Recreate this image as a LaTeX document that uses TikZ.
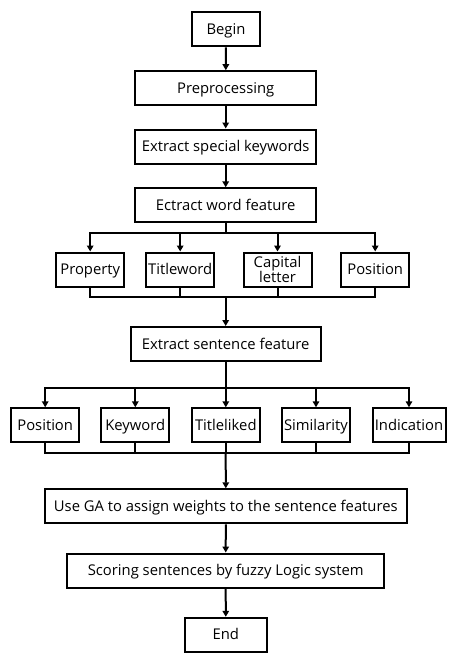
\documentclass[tikz,border=0pt]{standalone}
\usepackage{fontspec}
\setmainfont{Open Sans}
\usetikzlibrary{arrows.meta}
\begin{document}
\begin{tikzpicture}[x=1pt,y=-1pt,
  box/.style={draw,line width=2pt,minimum height=34pt,inner sep=0pt,align=center,
    text height=11pt,text depth=1pt,font=\fontsize{14.8}{14}\selectfont},
  ln/.style={line width=2pt},
  arr/.style={ln,-{Triangle[length=6pt,width=6.5pt]}}]
\useasboundingbox (0,0) rectangle (474,670);
\node[box,minimum width=68pt]  (begin) at (226,29.3) {Begin};
\node[box,minimum width=181pt] (pre) at (225.7,88.2) {Preprocessing};
\node[box,minimum width=181pt] (esk) at (225.7,146.5) {Extract special keywords};
\node[box,minimum width=181pt] (ewf) at (225.7,205.3) {Ectract word feature};
\node[box,minimum width=68pt] (p1) at (90.2,269.5) {Property};
\node[box,minimum width=68pt] (p2) at (180.2,269.5) {Titleword};
\node[box,minimum width=68pt,text height=,text depth=,font=\fontsize{14.8}{14.5}\selectfont] (p3) at (277.5,269.5) {Capital\\letter};
\node[box,minimum width=68pt] (p4) at (375.2,269.5) {Position};
\node[box,minimum width=190pt] (esf) at (225.7,344) {Extract sentence feature};
\node[box,minimum width=68pt] (s1) at (45.2,425.3) {Position};
\node[box,minimum width=68pt] (s2) at (135.3,425.3) {Keyword};
\node[box,minimum width=68pt] (s3) at (225.8,425.3) {Titleliked};
\node[box,minimum width=68pt] (s4) at (316,425.3) {Similarity};
\node[box,minimum width=73pt] (s5) at (409,425.3) {Indication};
\node[box,minimum width=361.5pt] (ga) at (225.8,506.3) {Use GA to assign weights to the sentence features};
\node[box,minimum width=316.5pt] (sc) at (225.7,570.5) {Scoring sentences by fuzzy Logic system};
\node[box,minimum width=81.5pt] (end) at (225.8,634.8) {End};
\coordinate (b1) at (225.7,233);
\coordinate (m1) at (225.7,297.3);
\coordinate (b2) at (225.7,388);
\coordinate (m2) at (225.7,452.7);
\draw[arr] (begin) -- (pre);
\draw[arr] (pre) -- (esk);
\draw[arr] (esk) -- (ewf);
\draw[ln] (ewf.south) -- (b1);
\foreach \n in {p1,p2,p3,p4} {
  \draw[arr] (b1) -| (\n.north);
  \draw[ln] (\n.south) |- (m1);
}
\draw[arr] (m1) -- (esf.north);
\draw[ln] (esf.south) -- (b2);
\foreach \n in {s1,s2,s3,s4,s5} {
  \draw[arr] (b2) -| (\n.north);
  \draw[ln] (\n.south) |- (m2);
}
\draw[arr] (m2) -- (ga.north);
\draw[arr] (ga) -- (sc);
\draw[arr] (sc) -- (end);
\end{tikzpicture}
\end{document}
